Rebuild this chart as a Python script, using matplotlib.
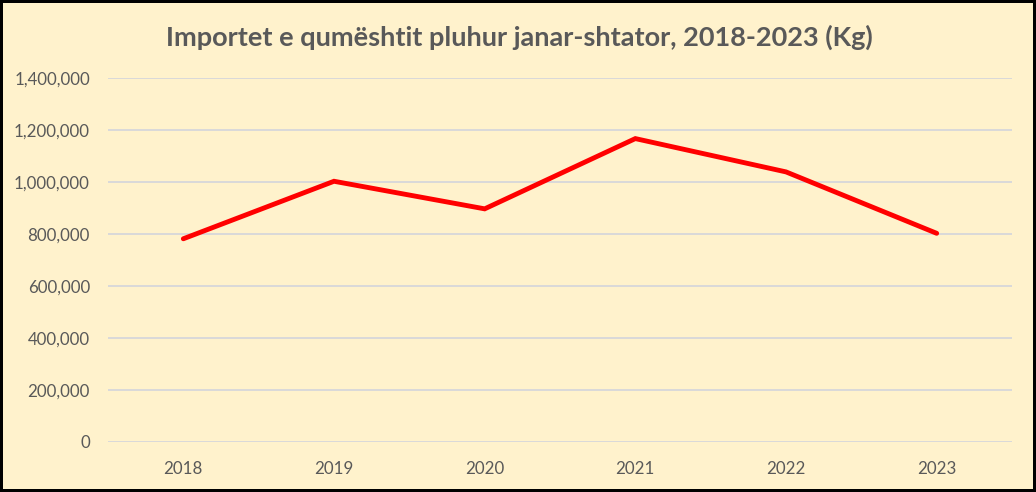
import matplotlib
matplotlib.use("Agg")
import matplotlib.pyplot as plt
from matplotlib.ticker import FuncFormatter

years = ["2018", "2019", "2020", "2021", "2022", "2023"]
imports_kg = [781000, 1002000, 896000, 1166000, 1038000, 802000]
y_ticks = [0, 200000, 400000, 600000, 800000, 1000000, 1200000, 1400000]
title = "Importet e qumështit pluhur janar-shtator, 2018-2023 (Kg)"

bg = "#FFF2CC"
text_color = "#595959"

fig = plt.figure(figsize=(10.36, 4.92), dpi=100, facecolor=bg)
fig.patch.set_edgecolor("black")
fig.patch.set_linewidth(4)

ax = fig.add_axes([108/1036, 1 - 442/492, (1012-108)/1036, (442-77.7)/492])
ax.set_facecolor(bg)

x = list(range(len(years)))
ax.plot(x, imports_kg, color="#FF0000", linewidth=3.5, solid_capstyle="round",
        solid_joinstyle="miter", zorder=3)

ax.set_xlim(-0.5, len(years) - 0.5)
ax.set_ylim(0, 1400000)
ax.set_yticks(y_ticks)
ax.yaxis.set_major_formatter(FuncFormatter(lambda v, p: f"{int(v):,}"))
ax.set_xticks(x)
ax.set_xticklabels(years)

ax.grid(axis="y", color="#D9D9D9", linewidth=1.4, zorder=0)
ax.set_axisbelow(True)
for s in ax.spines.values():
    s.set_visible(False)

ax.tick_params(axis="both", length=0, colors=text_color, labelsize=12.2)
ax.tick_params(axis="y", pad=13)
ax.tick_params(axis="x", pad=13.5)
for lab in ax.get_xticklabels() + ax.get_yticklabels():
    lab.set_fontfamily("Lato")

fig.text(519/1036, 1 - 37/492, title, ha="center", va="center",
         fontsize=19.5, fontweight="bold", color=text_color, family="Lato")

fig.savefig("out.png", dpi=100, facecolor=bg, edgecolor="black")
